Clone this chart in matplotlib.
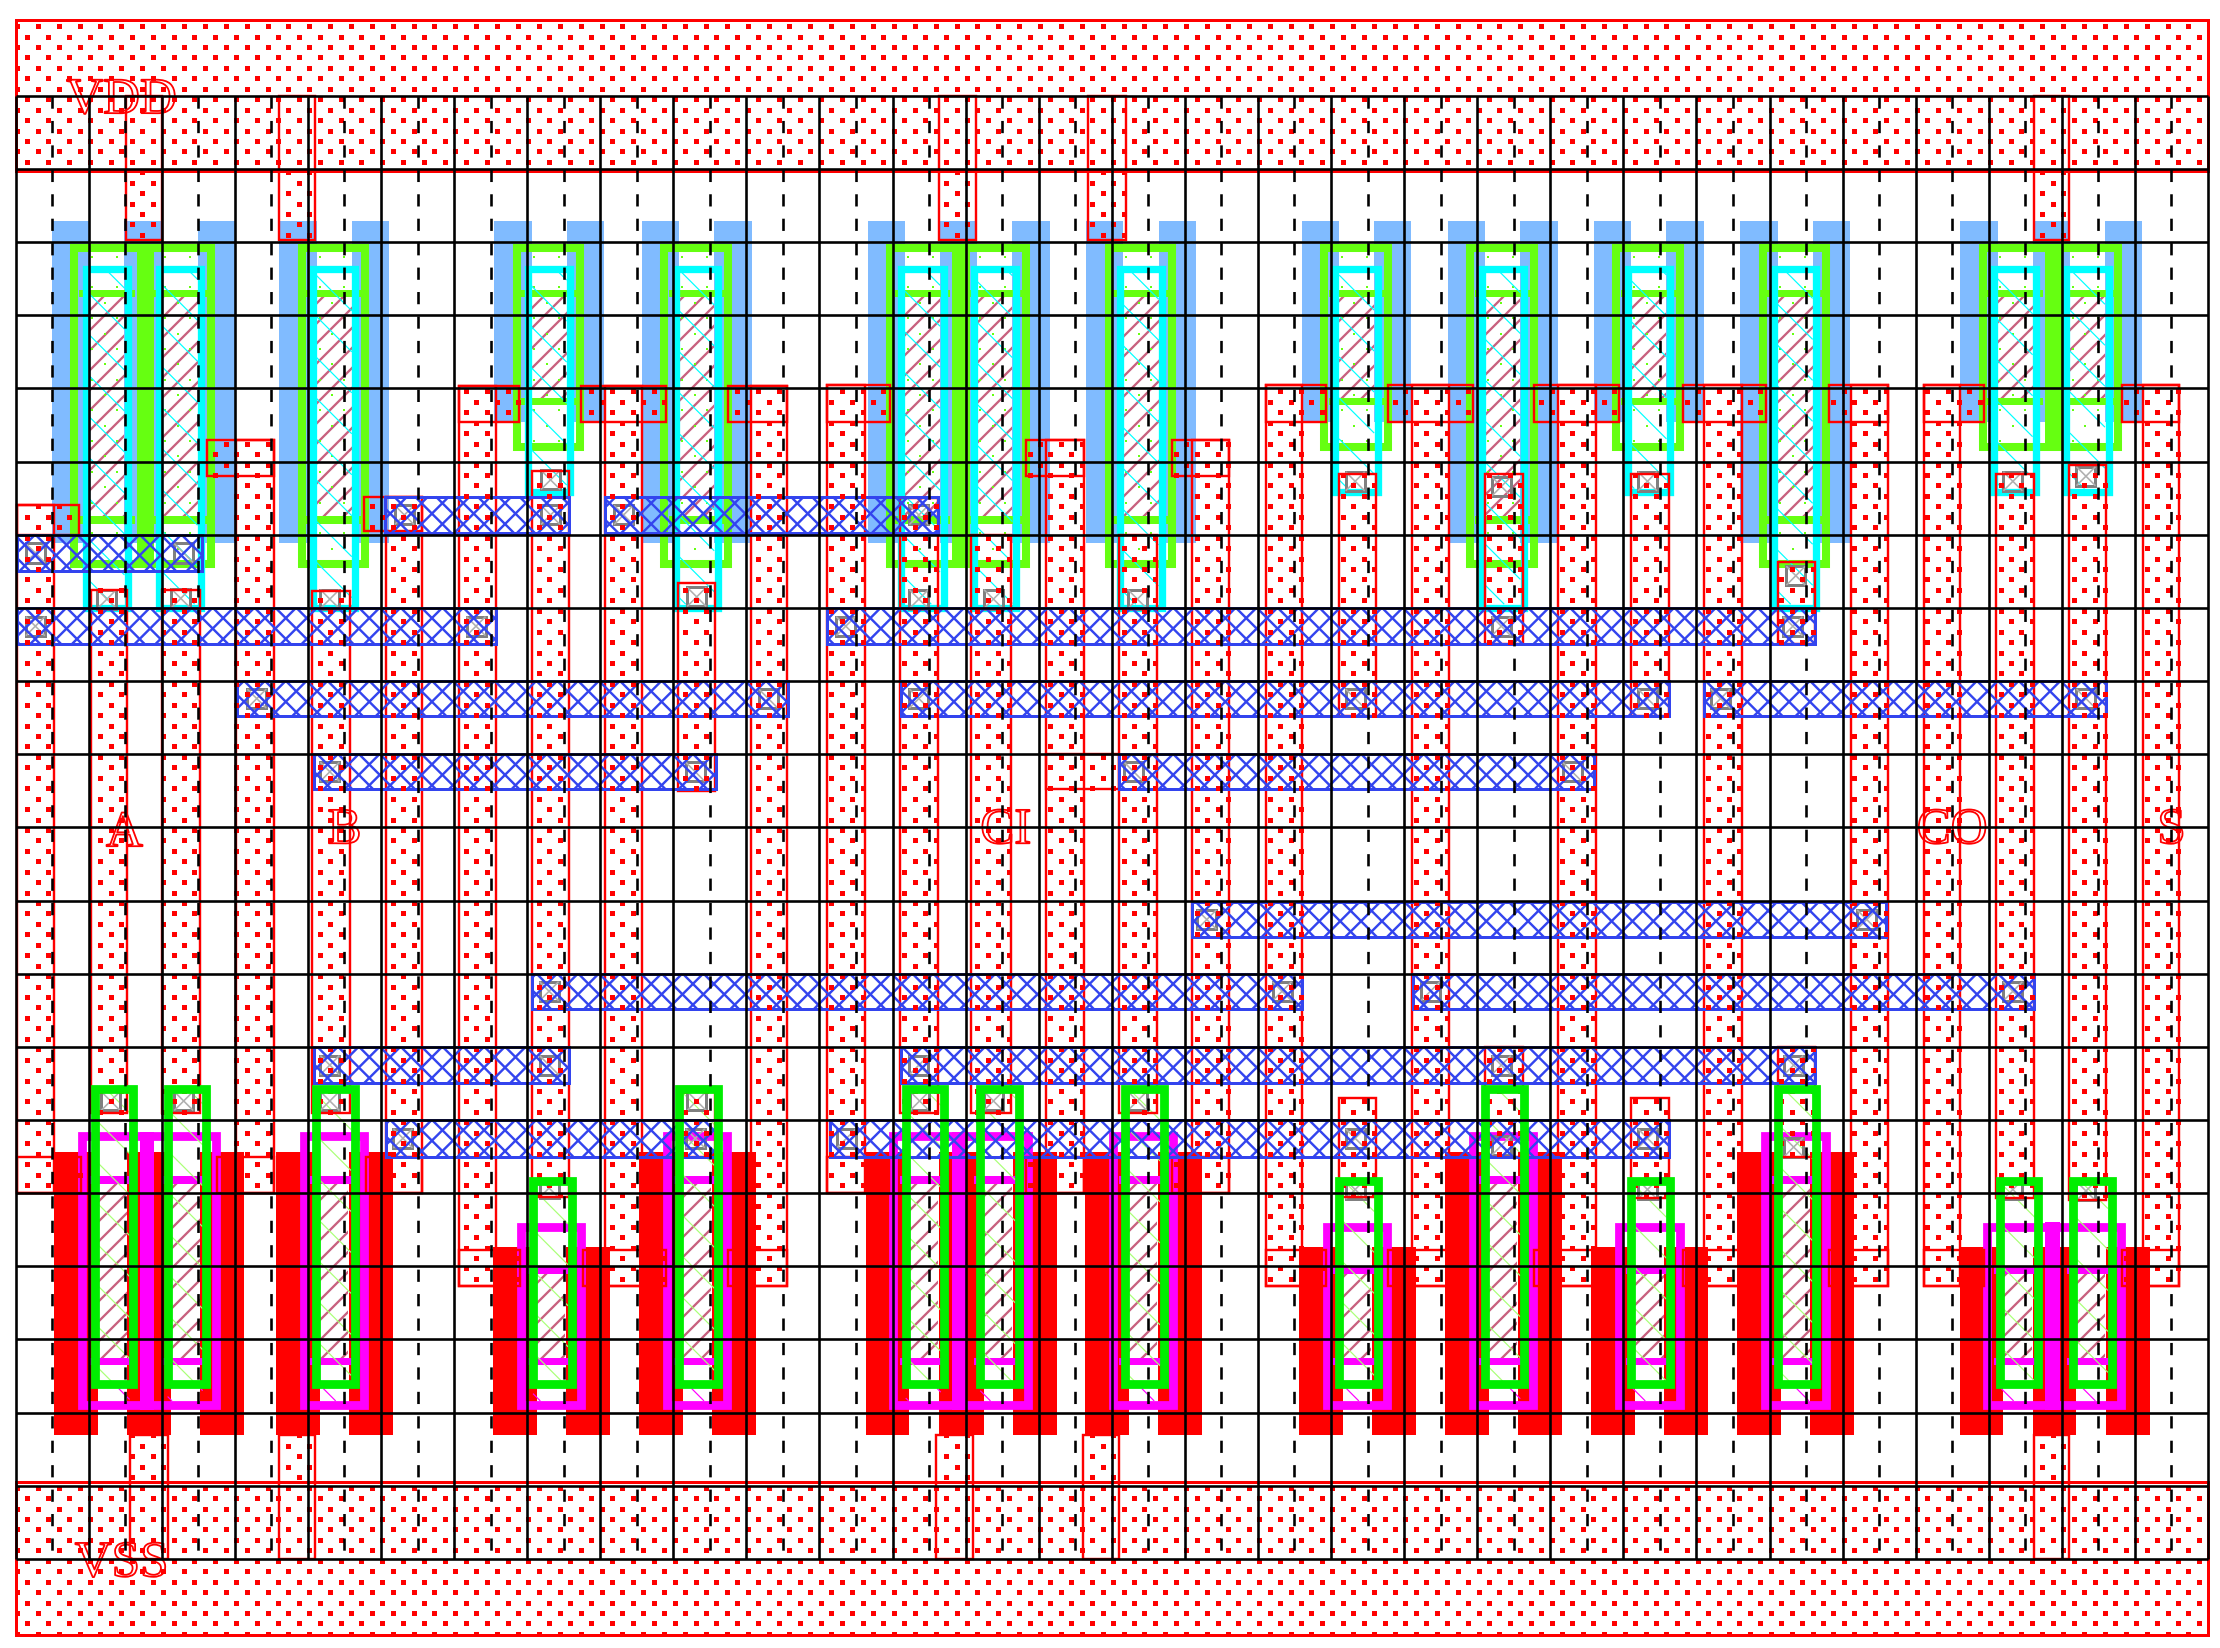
import numpy as np
import matplotlib
matplotlib.use("Agg")
import matplotlib.pyplot as plt
from matplotlib.patches import Rectangle
from matplotlib.collections import LineCollection
import matplotlib.patheffects as pe

# ---- layout data, in routing-grid units (u across, v down) ----
GRID_U = 30
GRID_V = 22
pmos_groups = [[1.25, 2.25], [4.36], [7.30], [9.32], [12.41, 13.40], [15.40],
               [18.35], [20.35], [22.35], [24.35], [27.36, 28.35]]
nmos_groups = [[1.30, 2.30], [4.33], [7.30], [9.30], [12.40, 13.42], [15.40],
               [18.33], [20.33], [22.33], [24.33], [27.37, 28.37]]
short_devices = [7.30, 18.35, 18.33, 22.35, 22.33, 27.36, 28.35, 27.37, 28.37]

# metal 1 rectangles: u0, u1, v0, v1
rails = [(0, 30, -0.03, 2.03), (0, 30, 19.95, 22.04)]
rail_stubs = [(1.51, 2.0, 1, 2.97), (3.6, 4.1, 1, 2.97), (12.64, 13.14, 1, 2.97),
              (14.68, 15.19, 1, 2.97), (27.62, 28.1, 1, 2.97),
              (1.56, 2.08, 19.3, 21), (3.6, 4.1, 19.3, 21), (12.6, 13.1, 19.3, 21),
              (14.6, 15.1, 19.3, 21), (27.62, 28.1, 19.3, 21)]
columns = [
    (0.02, 0.52, 6.6, 16), (1.03, 1.52, 7.75, 14.9), (2.01, 2.52, 7.75, 14.9),
    (3.01, 3.53, 5.71, 16), (4.05, 4.58, 7.77, 14.9), (5.07, 5.56, 6.48, 16),
    (6.07, 6.57, 4.97, 17.27), (7.07, 7.57, 6.13, 16.05), (8.07, 8.57, 4.97, 17.27),
    (9.07, 9.57, 7.66, 10.5), (9.07, 9.57, 14.55, 15.5), (10.06, 10.55, 4.97, 17.27),
    (11.1, 11.62, 4.96, 16), (12.1, 12.62, 6.5, 14.9), (13.08, 13.62, 7.0, 14.9),
    (14.1, 14.62, 5.71, 16), (15.1, 15.62, 7.0, 14.9), (16.1, 16.6, 5.71, 16),
    (17.11, 17.6, 4.96, 17.27), (18.11, 18.62, 6.17, 9.48), (18.11, 18.62, 14.7, 16.05),
    (19.11, 19.62, 4.96, 17.27), (20.1, 20.62, 6.17, 8.5), (20.1, 20.62, 14.0, 15.5),
    (21.1, 21.62, 4.96, 17.27), (22.1, 22.62, 6.17, 9.48), (22.1, 22.62, 14.7, 16.07),
    (23.11, 23.62, 4.96, 17.27), (24.11, 24.62, 7.37, 8.5), (24.11, 24.62, 14.0, 15.5),
    (25.11, 25.62, 4.96, 17.27), (26.11, 26.6, 4.96, 17.27), (27.1, 27.62, 6.17, 16.07),
    (28.1, 28.6, 6.05, 16.1), (29.11, 29.6, 4.96, 17.27),
]
column_boxes = [
    (0.02, 0.87, 6.6, 7.0), (2.62, 3.53, 5.71, 6.2), (4.77, 5.56, 6.48, 6.95),
    (6.07, 6.89, 4.97, 5.46), (7.74, 8.9, 4.97, 5.46), (9.75, 10.55, 4.97, 5.46),
    (11.1, 11.97, 4.96, 5.46), (13.82, 14.62, 5.71, 6.2), (15.82, 16.6, 5.71, 6.2),
    (17.11, 17.93, 4.96, 5.46), (18.78, 19.94, 4.96, 5.46), (20.78, 21.94, 4.96, 5.46),
    (22.82, 23.95, 4.96, 5.46), (24.82, 25.62, 4.96, 5.46), (26.11, 26.94, 4.96, 5.46),
    (28.82, 29.6, 4.96, 5.46), (14.1, 15.1, 10.0, 10.47),
    (0.02, 0.9, 15.5, 16), (2.76, 3.53, 15.5, 16), (4.8, 5.56, 15.5, 16),
    (11.1, 11.95, 15.5, 16), (13.82, 14.62, 15.5, 16), (15.83, 16.6, 15.5, 16),
    (6.07, 6.9, 16.78, 17.27), (7.76, 8.9, 16.78, 17.27), (9.75, 10.55, 16.78, 17.27),
    (17.11, 17.93, 16.78, 17.27), (18.78, 19.62, 16.78, 17.27), (20.78, 21.62, 16.78, 17.27),
    (22.82, 23.62, 16.78, 17.27), (24.82, 25.62, 16.78, 17.27), (26.11, 26.94, 16.78, 17.27),
    (28.82, 29.6, 16.78, 17.27),
]
# metal 2 rectangles: u0, u1, v0, v1
metal2 = [
    (0.02, 2.55, 7.0, 7.49), (5.06, 7.57, 6.48, 6.98), (8.07, 12.62, 6.48, 6.98),
    (0.02, 6.57, 8.0, 8.49), (11.1, 24.62, 8.0, 8.49),
    (3.03, 10.57, 9.0, 9.48), (12.12, 22.62, 9.0, 9.48), (23.1, 28.6, 9.0, 9.48),
    (4.08, 9.58, 10.0, 10.48), (15.1, 21.6, 10.0, 10.48),
    (16.1, 25.6, 12.02, 12.5),
    (7.07, 17.6, 13.0, 13.48), (19.12, 27.62, 13.0, 13.48),
    (4.08, 7.57, 14.0, 14.5), (12.12, 24.62, 14.0, 14.5),
    (5.07, 9.58, 15.0, 15.5), (11.15, 22.62, 15.0, 15.5),
]
via_u = [0.27, 2.3, 5.32, 7.32, 8.32, 12.36,
         0.27, 6.3, 11.36, 20.33, 24.32,
         3.3, 10.3, 12.36, 18.33, 22.33, 23.33, 28.33,
         4.3, 9.3, 15.3, 21.3,
         16.3, 25.33,
         7.3, 17.33, 19.36, 27.33,
         4.3, 7.3, 12.36, 20.33, 24.33,
         5.3, 9.3, 11.37, 18.33, 22.33,
         1.25, 2.26, 4.3, 9.32, 12.36, 13.38, 15.35, 7.32, 18.33, 20.33, 22.33, 24.36, 27.33, 28.33,
         1.3, 2.3, 4.3, 9.32, 12.37, 13.38, 15.35, 7.3, 18.33, 20.33, 22.33, 24.33, 27.33, 28.33]
via_v = [7.25, 7.25, 6.73, 6.73, 6.73, 6.73,
         8.25, 8.25, 8.25, 8.25, 8.25,
         9.24, 9.24, 9.24, 9.24, 9.24, 9.24, 9.24,
         10.24, 10.24, 10.24, 10.24,
         12.26, 12.26,
         13.24, 13.24, 13.24, 13.24,
         14.25, 14.25, 14.25, 14.25, 14.25,
         15.25, 15.25, 15.25, 15.25, 15.25,
         7.88, 7.87, 7.88, 7.85, 7.88, 7.88, 7.88, 6.25, 6.27, 6.34, 6.27, 7.56, 6.27, 6.2,
         14.74, 14.74, 14.74, 14.74, 14.74, 14.74, 14.74, 15.93, 15.95, 15.35, 15.95, 15.37, 15.95, 15.97]
labels = ["VDD", "VSS", "A", "B", "CI", "CO", "S"]
label_u = [1.45, 1.45, 1.49, 4.5, 13.55, 26.5, 29.5]
label_v = [1.07, 21.07, 11.09, 11.05, 11.05, 11.05, 11.05]

# ---- colours ----
BLUE = "#80BBFF"
LIME = "#66FF11"
CYAN = "#00FFFF"
MAGENTA = "#FF00FF"
RED = "#FF0000"
GREEN = "#00EE00"
M2BLUE = "#3344EE"
PINK = "#C8607E"
GRAY = "#808080"

DPI = 120
plt.rcParams["hatch.linewidth"] = 2.3 * 72 / DPI
plt.rcParams["font.family"] = ["Liberation Serif", "DejaVu Serif"]


def px(n):
    return n * 72 / DPI


fig = plt.figure(figsize=(2220 / DPI, 1648 / DPI), dpi=DPI, facecolor="white")
ax = fig.add_axes([0, 0, 1, 1])
SX, OX, SY, OY = 73.08, 15.6, 73.16, 22.6
ax.set_xlim(-OX / SX, (2220 - OX) / SX)
ax.set_ylim((1648 - OY) / SY, -OY / SY)
ax.axis("off")


def fill(u0, u1, v0, v1, color, z, **kw):
    ax.add_patch(Rectangle((u0, v0), u1 - u0, v1 - v0, facecolor=color, edgecolor="none",
                           linewidth=0, zorder=z, **kw))


def ring(u0, u1, v0, v1, t, color, z):
    ax.add_patch(Rectangle((u0 + t / 2, v0 + t / 2), u1 - u0 - t, v1 - v0 - t, fill=False,
                           edgecolor=color, linewidth=px(t * SX), zorder=z))


def diag(u0, u1, v0, v1, step, offset, down=True):
    """Segments of a 45 degree pattern clipped to a rectangle."""
    segs = []
    if down:  # u - v = k
        lo, hi = u0 - v1, u1 - v0
        for k in np.arange(np.ceil((lo - offset) / step), np.floor((hi - offset) / step) + 1) * step + offset:
            a, b = max(u0, v0 + k), min(u1, v1 + k)
            if b > a:
                segs.append([(a, a - k), (b, b - k)])
    else:  # u + v = k
        lo, hi = u0 + v0, u1 + v1
        for k in np.arange(np.ceil((lo - offset) / step), np.floor((hi - offset) / step) + 1) * step + offset:
            a, b = max(u0, k - v1), min(u1, k - v0)
            if b > a:
                segs.append([(a, k - a), (b, k - b)])
    return segs


def add_segs(segs, color, lw, z):
    if segs:
        ax.add_collection(LineCollection(segs, colors=color, linewidths=px(lw), zorder=z,
                                         capstyle="butt"))


# ---- p devices ----
for grp in pmos_groups:
    short = grp[0] in short_devices
    bot = 5.85 if short else 7.46
    blue_bot = 5.46 if short else 7.11
    ring(grp[0] - 0.5, grp[-1] + 0.48, 3.03, bot, 0.11, LIME, 4)
    if len(grp) == 2:
        m = sum(grp) / 2
        fill(m - 0.09, m + 0.15, 3.03, bot, LIME, 4)
    for c in grp:
        fill(c - 0.75, c - 0.24, 2.71, blue_bot, BLUE, 1)
        fill(c + 0.24, c + 0.75, 2.71, blue_bot, BLUE, 1)
        hb = 5.13 if short else 6.75
        ax.add_patch(Rectangle((c - 0.24, 3.75), 0.48, hb - 3.75, facecolor="white", edgecolor=PINK,
                               hatch="//", linewidth=0, zorder=3))
        fill(c - 0.38, c + 0.38, 3.65, 3.75, LIME, 4)
        fill(c - 0.38, c + 0.38, hb, hb + 0.1, LIME, 4)
        cy_bot = 6.47 if short else 8.05
        ring(c - 0.34, c + 0.34, 3.32, cy_bot, 0.1, CYAN, 5)
        add_segs(diag(c - 0.24, c + 0.24, 3.41, cy_bot - 0.1, 0.56, 0.1), CYAN, 1.2, 4.5)
        uu, vv = [], []
        for i, v in enumerate(np.arange(3.2, bot - 0.1, 0.21)):
            for u in np.arange(c - 0.2 + (i % 2) * 0.17, c + 0.22, 0.34):
                uu.append(u)
                vv.append(v)
        ax.scatter(uu, vv, s=px(2.5) ** 2, marker="s", color=LIME, linewidths=0, zorder=4.4)

# ---- n devices ----
for grp in nmos_groups:
    short = grp[0] in short_devices
    top = 16.73 if short else 15.44
    mtop = 16.4 if short else 15.16
    gtop = 15.77 if short else 14.52
    for c in grp:
        fill(c - 0.77, c - 0.17, top, 19.31, RED, 1.5)
        fill(c + 0.23, c + 0.83, top, 19.31, RED, 1.5)
    for c in grp:
        fill(c - 0.17, c + 0.23, mtop + 0.1, 18.84, "white", 1.6)
    ring(grp[0] - 0.45, grp[-1] + 0.5, mtop, 18.96, 0.12, MAGENTA, 2)
    if len(grp) == 2:
        m = sum(grp) / 2
        fill(m - 0.1, m + 0.1, mtop, 18.96, MAGENTA, 2)
    for c in grp:
        bt = 17.0 if short else 15.77
        ax.add_patch(Rectangle((c - 0.2, bt + 0.1), 0.42, 18.25 - bt - 0.1, facecolor="white", edgecolor=PINK,
                               hatch="//", linewidth=0, zorder=3))
        fill(c - 0.3, c + 0.3, bt, bt + 0.1, MAGENTA, 3.2)
        fill(c - 0.3, c + 0.3, 18.25, 18.35, MAGENTA, 3.2)
        add_segs(diag(c - 0.22, c + 0.26, gtop + 0.1, 18.57, 0.56, 0.1), "#AAFF77", 1.2, 4.5)
        add_segs(diag(c - 0.22, c + 0.26, 18.67, 18.84, 0.56, 0.1), MAGENTA, 1.2, 4.5)
        ring(c - 0.28, c + 0.37, gtop, 18.67, 0.12, GREEN, 10.7)

# ---- vias ----
H = 0.13
for u, v in zip(via_u, via_v):
    ax.add_patch(Rectangle((u - H, v - H), 2 * H, 2 * H, fill=False, edgecolor=GRAY, linewidth=px(3), zorder=7))
    add_segs([[(u - H, v - H), (u + H, v + H)], [(u - H, v + H), (u + H, v - H)]], "#B0B0B0", 1.6, 7)

# ---- metal 1 ----
DOT_DU, DOT_DV = 20.88 / SX, 10.44 / SY
DOT_U0, DOT_V0 = (37.8 - OX) / SX, (26.1 - OY) / SY


def dots(u0, u1, v0, v1):
    uu, vv = [], []
    n0, n1 = int(np.ceil((v0 - DOT_V0) / DOT_DV)), int(np.floor((v1 - DOT_V0) / DOT_DV))
    for n in range(n0, n1 + 1):
        off = DOT_U0 - (n % 2) * DOT_DU / 2
        m0, m1 = int(np.ceil((u0 - off) / DOT_DU)), int(np.floor((u1 - off) / DOT_DU))
        for m in range(m0, m1 + 1):
            uu.append(off + m * DOT_DU)
            vv.append(DOT_V0 + n * DOT_DV)
    return uu, vv


all_u, all_v = [], []
for rect in rails + rail_stubs + columns + column_boxes:
    a, b = dots(*rect)
    all_u += a
    all_v += b
pts = sorted(set(zip(np.round(all_u, 3), np.round(all_v, 3))))
ax.scatter([p[0] for p in pts], [p[1] for p in pts], s=px(5.0) ** 2, marker="s", color=RED,
           linewidths=0, zorder=10.5)
for rect in rail_stubs + columns + column_boxes:
    u0, u1, v0, v1 = rect
    ax.add_patch(Rectangle((u0, v0), u1 - u0, v1 - v0, fill=False, edgecolor=RED, linewidth=px(2.4), zorder=9))
for u0, u1, v0, v1 in rails:
    ax.add_patch(Rectangle((u0, v0), u1 - u0, v1 - v0, fill=False, edgecolor=RED, linewidth=px(3.0), zorder=9))

# ---- metal 2 ----
for u0, u1, v0, v1 in metal2:
    segs = diag(u0, u1, v0, v1, 0.2857, 0.1286, True) + diag(u0, u1, v0, v1, 0.2857, 0.123, False)
    add_segs(segs, M2BLUE, 2.4, 10)
    ax.add_patch(Rectangle((u0, v0), u1 - u0, v1 - v0, fill=False, edgecolor=M2BLUE, linewidth=px(3.0), zorder=10.2))

# ---- labels ----
for s, u, v in zip(labels, label_u, label_v):
    ax.text(u, v, s, fontsize=px(51), color="none", ha="center", va="center", zorder=11.5,
            path_effects=[pe.Stroke(linewidth=px(1.8), foreground=RED)])

# ---- grid ----
for i in range(GRID_U + 1):
    ax.plot([i, i], [1, GRID_V - 1], color="black", lw=px(2.6), zorder=12, solid_capstyle="butt")
for i in range(GRID_U):
    ax.plot([i + 0.5, i + 0.5], [1, GRID_V - 1], color="black", lw=px(2.6), zorder=12,
            linestyle=(0, (4.7, 4.7)), dash_capstyle="butt")
for j in range(1, GRID_V):
    ax.plot([0, GRID_U], [j, j], color="black", lw=px(2.6), zorder=12, solid_capstyle="butt")

fig.savefig("out.png", dpi=DPI, facecolor="white")
